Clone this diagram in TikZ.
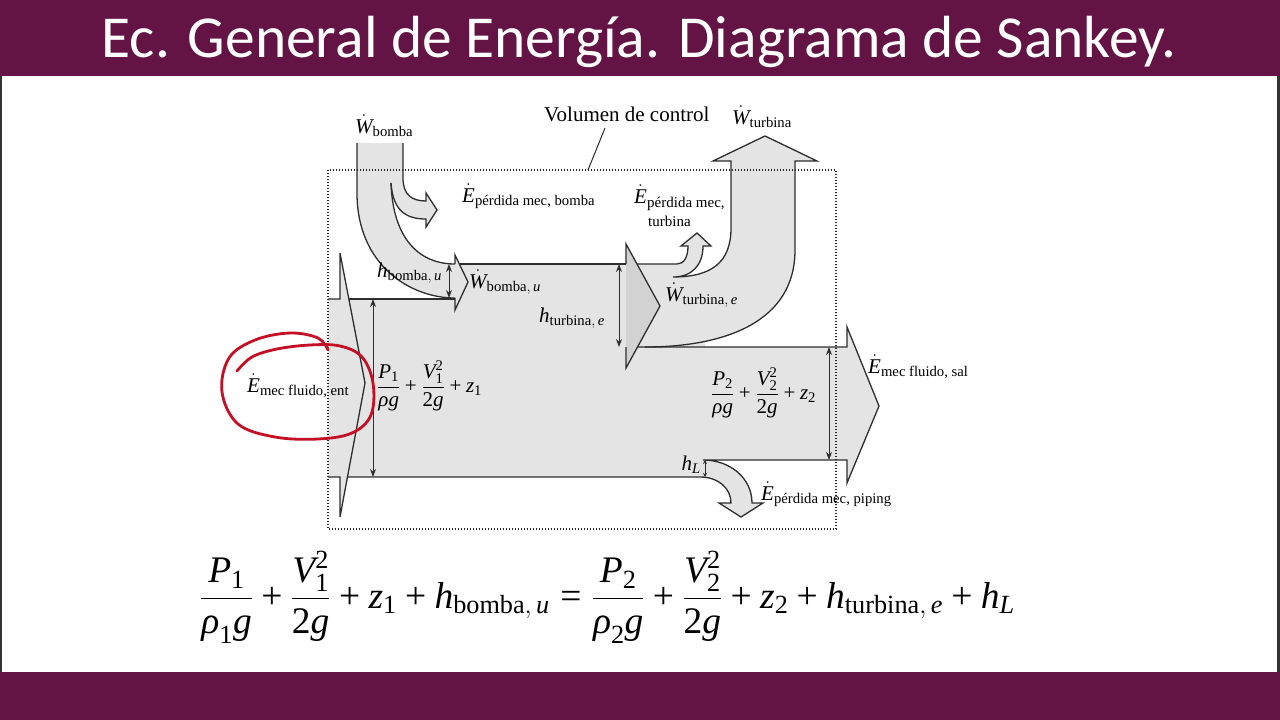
\RequirePackage{fix-cm}
\documentclass[tikz,border=0pt]{standalone}
\usepackage{amsmath}
\usepackage{fontspec}
\setmainfont{Liberation Serif}
\newfontfamily\titlefont{Carlito}
\usetikzlibrary{arrows.meta}
\definecolor{barcol}{HTML}{641444}
\definecolor{flowgray}{HTML}{E4E4E4}
\definecolor{turbgray}{HTML}{D2D2D2}
\definecolor{linecol}{HTML}{2E2E2E}
\definecolor{annot}{HTML}{C41024}
\newcommand\vi[1]{\text{\itshape #1}}
\newcommand\vn[1]{\text{\upshape #1}}
\newcommand\pl{\mathbin{\text{\upshape +}}}
\newcommand\eqs{\mathrel{\text{\upshape =}}}
\newcommand\Wd{\dot{\vi{W}}}
\newcommand\Ed{\dot{\vi{E}}}
\tikzset{
  edge/.style={draw=linecol, line width=1.3pt, line join=miter},
  dimarrow/.style={draw=linecol, line width=0.9pt, {Stealth[length=8pt,width=6pt]}-{Stealth[length=8pt,width=6pt]}},
  lbl/.style={inner sep=0pt, font=\fontsize{21}{25}\selectfont},
  sub/.style={inner sep=0pt, font=\fontsize{15}{18}\selectfont},
}
\begin{document}
\begin{tikzpicture}[x=1pt, y=-1pt]
\useasboundingbox (0,0) rectangle (1280,720);
\fill[white] (0,0) rectangle (1280,720);
% bars
\fill[barcol] (0,0) rectangle (1280,76);
\fill[barcol] (0,672) rectangle (1280,720);
\fill[black!80] (0,76) rectangle (2,672);
\fill[black!80] (1277,76) rectangle (1280,672);
\node[font=\titlefont\fontsize{59.5}{70}\selectfont, text=white, anchor=base, inner sep=0pt] (title) at (639,57) {Ec. General de Energía. Diagrama de Sankey.};

% ---------- gray fills ----------
\fill[flowgray] (328,299) rectangle (705,477);
\fill[flowgray] (455,264) rectangle (626,299);
\fill[flowgray] (626,347) rectangle (847,460);
\fill[flowgray] (847,327) -- (879,406) -- (847,483) -- cycle;
\fill[flowgray] (340,253) -- (365,383) -- (340,517) -- cycle;
% pump
\fill[flowgray] (357,143) -- (403,143) -- (403,178) .. controls (403,195) and (412,201) .. (426,201)
  -- (426,193) -- (437,210) -- (426,227) -- (426,219) .. controls (405,219) and (393,210) .. (391,183)
  .. controls (393,240) and (420,264) .. (455,264) -- (455,298) .. controls (410,298) and (358,265) .. (357,195) -- cycle;
\fill[flowgray] (455,255) -- (468,282) -- (455,310) -- cycle;
% turbine outputs
\fill[flowgray] (626,264) -- (677,264) .. controls (684,264) and (688,257) .. (688,246) -- (681,246) -- (697,233)
  -- (711,246) -- (703,246) .. controls (703,265) and (692,277) .. (673,277)
  .. controls (712,277) and (731,262) .. (731,228) -- (731,161) -- (713,161) -- (765,136) -- (817,161)
  -- (795,161) -- (795,250) .. controls (795,322) and (725,347) .. (645,347) -- (626,347) -- cycle;
% piping loss
\fill[flowgray] (700,477) .. controls (718,477) and (731,488) .. (731,503) -- (719,503) -- (741,517)
  -- (763,503) -- (752,503) .. controls (752,478) and (730,460) .. (703,460) -- cycle;
% turbine triangle
\fill[turbgray] (626,244) -- (660,306) -- (626,368) -- cycle;

% ---------- control volume ----------
\draw[line width=1.1pt, draw=black!85, dash pattern=on 1.2pt off 1.8pt] (328,170) rectangle (836,529);
\coordinate (cvtop) at (588,170);

% ---------- outlines ----------
\draw[edge] (328,299) -- (340,299) -- (340,253) -- (365,383) -- (340,517) -- (340,477) -- (328,477);
\draw[edge] (349,299) -- (455,299);
\draw[edge] (357,143) -- (357,195) .. controls (358,265) and (410,298) .. (455,298);
\draw[edge] (391,183) .. controls (393,240) and (420,264) .. (455,264);
\draw[edge] (403,143) -- (403,178) .. controls (403,195) and (412,201) .. (426,201) -- (426,193) -- (437,210)
  -- (426,227) -- (426,219) .. controls (405,219) and (393,210) .. (391,183);
\draw[edge] (455,264) -- (455,255) -- (468,282) -- (455,310) -- (455,298);
\draw[edge] (459,264) -- (626,264);
\draw[edge] (626,264) -- (626,244) -- (660,306) -- (626,368) -- (626,347);
\draw[edge] (637,264) -- (677,264) .. controls (684,264) and (688,257) .. (688,246) -- (681,246) -- (697,233)
  -- (711,246) -- (703,246) .. controls (703,265) and (692,277) .. (673,277)
  .. controls (712,277) and (731,262) .. (731,228) -- (731,161) -- (713,161) -- (765,136) -- (817,161)
  -- (795,161) -- (795,250) .. controls (795,322) and (725,347) .. (645,347);
\draw[edge] (638,347) -- (847,347) -- (847,327) -- (879,406) -- (847,483) -- (847,460) -- (703,460)
  .. controls (730,460) and (752,478) .. (752,503) -- (763,503) -- (741,517) -- (719,503) -- (731,503)
  .. controls (731,488) and (718,477) .. (700,477) -- (348,477);

% ---------- dimension arrows ----------
\coordinate (d1a) at (373,299); \coordinate (d1b) at (373,477);
\coordinate (d2a) at (449,264); \coordinate (d2b) at (449,298);
\coordinate (d3a) at (619,264); \coordinate (d3b) at (619,347);
\coordinate (d4a) at (829,347); \coordinate (d4b) at (829,460);
\coordinate (d5a) at (705,460); \coordinate (d5b) at (705,477);
\draw[dimarrow] (d1a) -- (d1b);
\draw[dimarrow] (d2a) -- (d2b);
\draw[dimarrow] (d3a) -- (d3b);
\draw[dimarrow] (d4a) -- (d4b);
\draw[draw=linecol, line width=0.8pt, {Stealth[length=4pt,width=4pt]}-{Stealth[length=4pt,width=4pt]}] (d5a) -- (d5b);

% ---------- labels ----------
\node[lbl, anchor=base west] (vc) at (544,121) {Volumen de control};
\draw[line width=1pt, linecol] (605,128) -- (cvtop);
\node[lbl, anchor=base west] (wb) at (355,133) {$\Wd_{\text{bomba}}$};
\node[lbl, anchor=base west] (wt) at (732,124) {$\Wd_{\text{turbina}}$};
\node[lbl, anchor=base west] (epb) at (462,202) {$\Ed_{\text{pérdida mec, bomba}}$};
\node[lbl, anchor=base west] (ept) at (634,203) {$\Ed$};
\node[sub, anchor=base west] (ept1) at (647,207) {pérdida mec,};
\node[sub, anchor=base west] (ept2) at (648,226) {turbina};
\node[lbl, anchor=base west] (hbu) at (377,277) {$\vi{h}_{\text{bomba},\,\vi{u}}$};
\node[lbl, anchor=base west] (wbu) at (469,288) {$\Wd_{\text{bomba},\,\vi{u}}$};
\node[lbl, anchor=base west] (hte) at (539,322) {$\vi{h}_{\text{turbina},\,\vi{e}}$};
\node[lbl, anchor=base west] (wte) at (665,301) {$\Wd_{\text{turbina},\,\vi{e}}$};
\node[lbl, anchor=west] (in1) at (377,386) {$\dfrac{\vi{P}_{\vn{1}}}{\vi{ρ}\vi{g}}\pl\dfrac{\vi{V}_{\vn{1}}^{\vn{2}}}{\vn{2}\vi{g}}\pl\vi{z}_{\vn{1}}$};
\node[lbl, anchor=west] (in2) at (711,393) {$\dfrac{\vi{P}_{\vn{2}}}{\vi{ρ}\vi{g}}\pl\dfrac{\vi{V}_{\vn{2}}^{\vn{2}}}{\vn{2}\vi{g}}\pl\vi{z}_{\vn{2}}$};
\node[lbl, anchor=base west] (ein) at (247,392) {$\Ed_{\text{mec fluido, ent}}$};
\node[lbl, anchor=base west] (eout) at (868,373) {$\Ed_{\text{mec fluido, sal}}$};
\node[lbl, anchor=base east] (hl) at (701,470) {$\vi{h}_{\vi{L}}$};
\node[lbl, anchor=base west] (epp) at (761,500) {$\Ed_{\text{pérdida mec, piping}}$};

% ---------- red annotation ----------
\draw[annot, line width=2.8pt, line cap=round] plot[smooth, tension=0.6] coordinates {
 (237,371) (252,357) (277,349) (310,345) (340,346) (362,357) (373,383) (371,415) (352,433)
 (318,439) (275,437) (238,424) (222,392) (229,358) (255,340) (290,333) (318,338) (328,350)};

% ---------- equation ----------
\node[inner sep=0pt, font=\fontsize{37.5}{44}\selectfont, anchor=west] (eq) at (200,597)
 {$\dfrac{\vi{P}_{\vn{1}}}{\vi{ρ}_{\vn{1}}\vi{g}}\pl\dfrac{\vi{V}_{\vn{1}}^{\vn{2}}}{\vn{2}\vi{g}}\pl\vi{z}_{\vn{1}}\pl\vi{h}_{\text{bomba},\,\vi{u}}
 \eqs\dfrac{\vi{P}_{\vn{2}}}{\vi{ρ}_{\vn{2}}\vi{g}}\pl\dfrac{\vi{V}_{\vn{2}}^{\vn{2}}}{\vn{2}\vi{g}}\pl\vi{z}_{\vn{2}}\pl\vi{h}_{\text{turbina},\,\vi{e}}\pl\vi{h}_{\vi{L}}$};
\end{tikzpicture}
\end{document}
